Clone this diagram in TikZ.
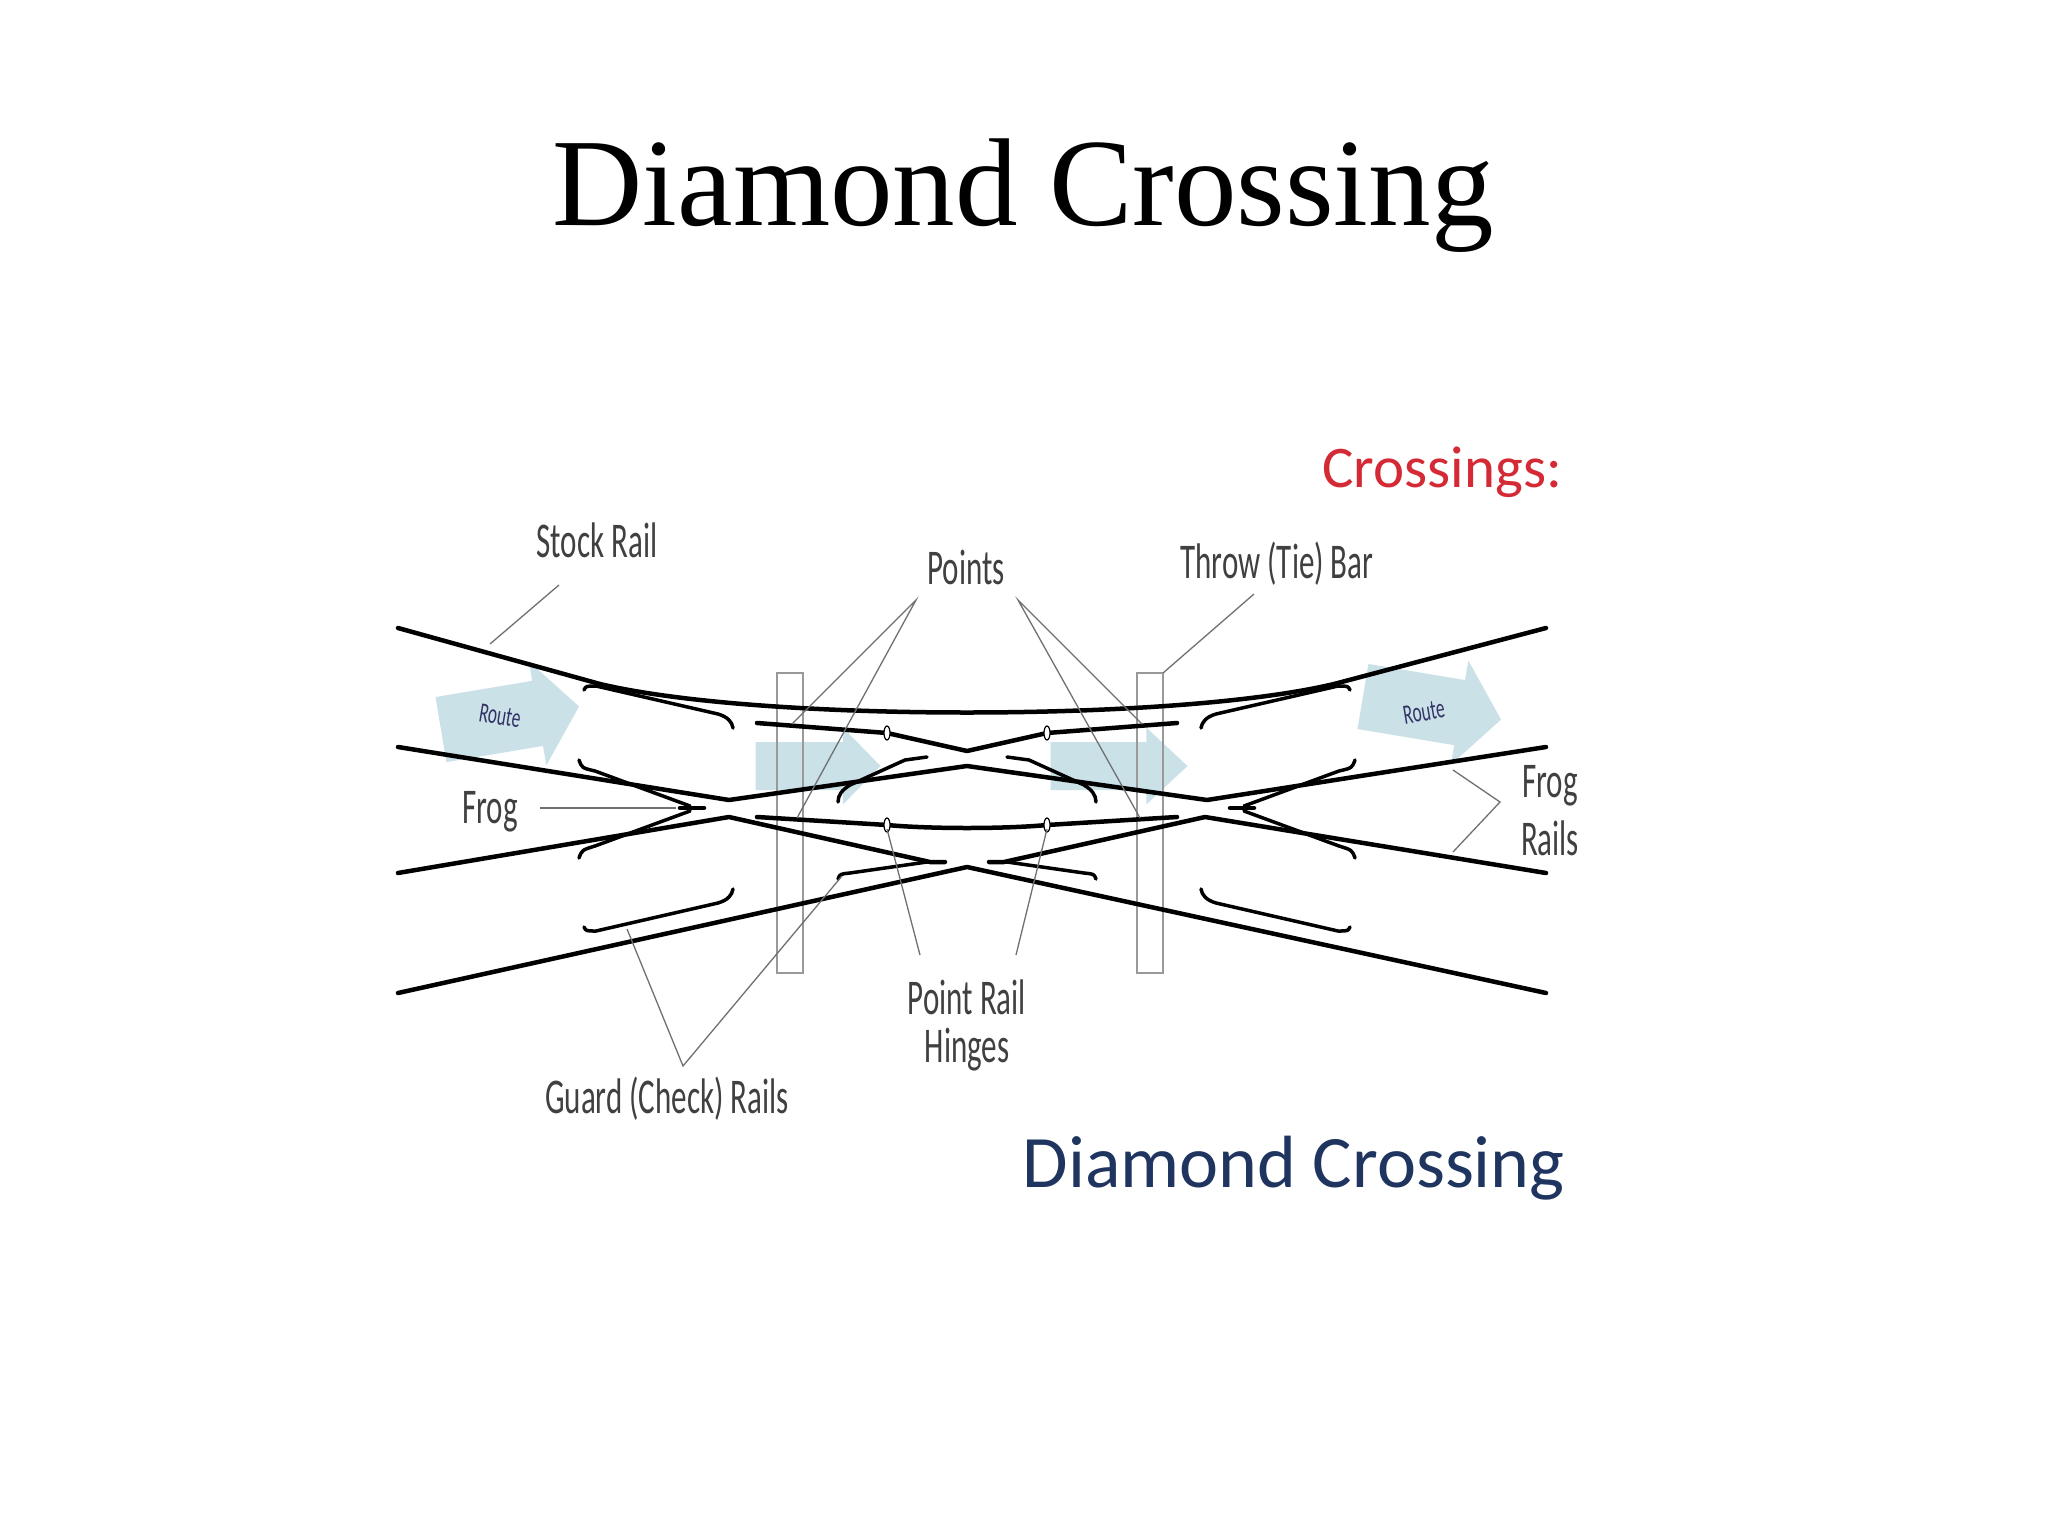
\documentclass[tikz,border=0pt]{standalone}
\usepackage{fontspec}
\setmainfont{Liberation Serif}
\newfontfamily\calfont{Carlito}
\definecolor{routeblue}{HTML}{C3DCE5}
\definecolor{lblgray}{HTML}{404040}
\definecolor{leadgray}{HTML}{707070}
\definecolor{redtxt}{HTML}{D42A35}
\definecolor{navytxt}{HTML}{1F3560}
\newcommand{\nar}[1]{\scalebox{0.62}[1]{#1}}
\newcommand{\routearrow}[5]{% x,y,angle,length,bodyhalf
  \begin{scope}[shift={(#1,#2)}, rotate=#3]
  \fill[routeblue, fill opacity=0.85] (-#4/2,-#5) -- (#4/2-0.3*#4,-#5) -- (#4/2-0.3*#4,-1.6*#5) -- (#4/2,0)
     -- (#4/2-0.3*#4,1.6*#5) -- (#4/2-0.3*#4,#5) -- (-#4/2,#5) -- cycle;
  \end{scope}}
\tikzset{
  rail/.style={line width=4.5pt, line cap=round, line join=round},
  lead/.style={leadgray, line width=1.3pt},
  bar/.style={draw=gray!80, line width=2pt},
  lbl/.style={font=\calfont\fontsize{50}{50}\selectfont, text=lblgray, inner sep=0pt},
  routetxt/.style={font=\calfont\fontsize{28}{28}\selectfont, text=lblgray!80!blue, inner sep=0pt},
  hinge/.style={draw, fill=white, line width=1.2pt}
}
\begin{document}
\begin{tikzpicture}[x=1pt,y=-1pt]
\path[use as bounding box, fill=white] (0,0) rectangle (2048,1536);
% title
\node (title) at (1023,196) {\fontsize{125}{125}\selectfont Diamond Crossing};
\node (cross) [anchor=west, font=\calfont\fontsize{59}{59}\selectfont, text=redtxt] at (1319,472) {Crossings:};
\node (dc) [anchor=west, font=\calfont\fontsize{74}{74}\selectfont, text=navytxt] at (1019,1168) {Diamond Crossing};
% route arrows
\routearrow{510}{718}{9.5}{140}{33}
\node (r1t) [routetxt, rotate=-9.5] at (500,716) {\nar{Route}};
\routearrow{1432}{708}{-9.5}{140}{33}
\node (r4t) [routetxt, rotate=9.5] at (1424,712) {\nar{Route}};
\routearrow{818}{766}{0}{125}{24}
\routearrow{1119}{766}{0}{137}{24}
% throw bars
\node (tb1) [bar, minimum width=26pt, minimum height=300pt, inner sep=0pt] at (790,823) {};
\node (tb2) [bar, minimum width=26pt, minimum height=300pt, inner sep=0pt] at (1150,823) {};
% rails
\draw[rail] (398,628) -- (600,684) .. controls (760,722) and (1174,722) .. (1334,684) -- (1546,628);
\draw[rail] (398,747) -- (729,800) -- (967,766) -- (1207,800) -- (1546,747);
\draw[rail] (398,873) -- (729,817) -- (930,862) -- (945,862);
\draw[rail] (1546,873) -- (1205,817) -- (1004,862) -- (989,862);
\draw[rail] (398,993) -- (967,867) -- (1546,993);
\draw[rail] (757,723) -- (887,733) -- (967,751) -- (1047,733) -- (1177,723);
\draw[rail] (757,817) -- (887,825) .. controls (930,829) and (1004,829) .. (1047,825) -- (1177,817);
% upper check rails
\draw[rail, line width=3.5pt] (927,757) -- (905,760) -- (850,785) .. controls (842,790) and (838,795) .. (838,802);
\draw[rail, line width=3.5pt] (1007,757) -- (1029,760) -- (1084,785) .. controls (1092,790) and (1096,795) .. (1096,802);
% lower nose guards
\draw[rail, line width=3.5pt] (838,879) .. controls (840,874) .. (850,873) -- (927,862);
\draw[rail, line width=3.5pt] (1096,879) .. controls (1094,874) .. (1084,873) -- (1007,862);
% frog noses
\draw[rail, line width=3.5pt] (579,760) .. controls (582,768) .. (595,771) -- (690,806);
\draw[rail, line width=3.5pt] (579,858) .. controls (582,850) .. (595,846) -- (690,811);
\draw[rail] (680,808) -- (704,808);
\draw[rail, line width=3.5pt] (1355,760) .. controls (1352,768) .. (1339,771) -- (1244,806);
\draw[rail, line width=3.5pt] (1355,858) .. controls (1352,850) .. (1339,846) -- (1244,811);
\draw[rail] (1254,808) -- (1230,808);
% outer guards
\draw[rail, line width=3.5pt] (584,690) .. controls (586,686) .. (596,686) -- (718,714) .. controls (728,717) and (732,722) .. (733,728);
\draw[rail, line width=3.5pt] (584,927) .. controls (586,931) .. (596,931) -- (718,903) .. controls (728,900) and (732,895) .. (733,889);
\draw[rail, line width=3.5pt] (1350,690) .. controls (1348,686) .. (1338,686) -- (1216,714) .. controls (1206,717) and (1202,722) .. (1201,728);
\draw[rail, line width=3.5pt] (1350,927) .. controls (1348,931) .. (1338,931) -- (1216,903) .. controls (1206,900) and (1202,895) .. (1201,889);
% hinges
\foreach \hx/\hy in {887/733,1047/733,887/825,1047/825}
  \draw[hinge] (\hx,\hy) ellipse [x radius=3pt, y radius=7pt];
% labels
\node (stock) [lbl] at (597,540) {\nar{Stock Rail}};
\node (points) [lbl] at (966,567) {\nar{Points}};
\node (throw) [lbl] at (1277,564) {\nar{Throw (Tie) Bar}};
\node (frogL) [lbl] at (490,812) {\nar{Frog}};
\node (frogR1) [lbl] at (1550,786) {\nar{Frog}};
\node (frogR2) [lbl] at (1550,838) {\nar{Rails}};
\node (prh1) [lbl] at (967,997) {\nar{Point Rail}};
\node (prh2) [lbl] at (967,1050) {\nar{Hinges}};
\node (guard) [lbl] at (667,1099) {\nar{Guard (Check) Rails}};
% leader targets
\coordinate (sA) at (559,585); \coordinate (sB) at (490,644);
\coordinate (pL) at (916,600); \coordinate (pR) at (1018,600);
\coordinate (pL1) at (792,724); \coordinate (pL2) at (797,818);
\coordinate (pR1) at (1142,724); \coordinate (pR2) at (1140,818);
\coordinate (tA) at (1254,594); \coordinate (tB) at (1163,673);
\coordinate (fA) at (540,808); \coordinate (fB) at (676,808);
\coordinate (frA) at (1453,770); \coordinate (frB) at (1500,802); \coordinate (frC) at (1453,852);
\coordinate (gA) at (683,1066); \coordinate (gB) at (627,929); \coordinate (gC) at (842,876);
\coordinate (hA) at (920,955); \coordinate (hB) at (887,829);
\coordinate (hC) at (1016,955); \coordinate (hD) at (1047,829);
\draw[lead] (sA) -- (sB);
\draw[lead] (pL1) -- (pL) -- (pL2);
\draw[lead] (pR1) -- (pR) -- (pR2);
\draw[lead] (tA) -- (tB);
\draw[lead] (fA) -- (fB);
\draw[lead] (frA) -- (frB) -- (frC);
\draw[lead] (gB) -- (gA) -- (gC);
\draw[lead] (hA) -- (hB);
\draw[lead] (hC) -- (hD);
\end{tikzpicture}
\end{document}
